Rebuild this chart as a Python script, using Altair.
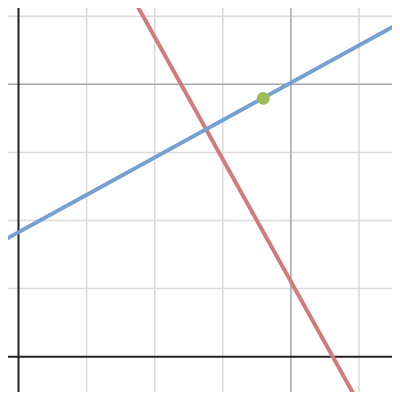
import altair as alt
import pandas as pd

# grid positions (units: 0.5 per minor cell, 2 per major)
minor_vals = [0.5, 1.0, 1.5, 2.5]
major_vals = [2.0]
axis_vals = [0.0]

# line endpoints
blue_x = [-0.15, 2.85]
blue_y = [0.831, 2.478]
red_x = [0.70, 2.60]
red_y = [2.885, -0.526]
pt_x = [1.797]
pt_y = [1.897]

X_DOM = [-0.0771, 2.742]
Y_DOM = [-0.259, 2.560]

xs = alt.Scale(domain=X_DOM, nice=False, zero=False)
ys = alt.Scale(domain=Y_DOM, nice=False, zero=False)


def vrules(vals, color, width):
    df = pd.DataFrame({"v": vals})
    return alt.Chart(df).mark_rule(color=color, strokeWidth=width, clip=True).encode(
        x=alt.X("v:Q", scale=xs, axis=None)
    )


def hrules(vals, color, width):
    df = pd.DataFrame({"v": vals})
    return alt.Chart(df).mark_rule(color=color, strokeWidth=width, clip=True).encode(
        y=alt.Y("v:Q", scale=ys, axis=None)
    )


def line(xv, yv, color):
    df = pd.DataFrame({"x": xv, "y": yv})
    return alt.Chart(df).mark_line(color=color, strokeWidth=4, clip=True).encode(
        x=alt.X("x:Q", scale=xs, axis=None),
        y=alt.Y("y:Q", scale=ys, axis=None),
    )


grid_minor_c = "#dadada"
grid_major_c = "#a5a5a5"
axis_c = "#222222"

pts = alt.Chart(pd.DataFrame({"x": pt_x, "y": pt_y})).mark_circle(
    color="#9bbd55", opacity=1, size=165
).encode(
    x=alt.X("x:Q", scale=xs, axis=None),
    y=alt.Y("y:Q", scale=ys, axis=None),
)

chart = alt.layer(
    vrules(minor_vals, grid_minor_c, 1.5),
    hrules(minor_vals, grid_minor_c, 1.5),
    vrules(major_vals, grid_major_c, 1.5),
    hrules(major_vals, grid_major_c, 1.5),
    vrules(axis_vals, axis_c, 2),
    hrules(axis_vals, axis_c, 2),
    line(red_x, red_y, "#d27b7b"),
    line(blue_x, blue_y, "#74a0d2"),
    pts,
).properties(
    width=384, height=384, padding=0, autosize=alt.AutoSizeParams(type="none"),
    background="white"
).configure_view(stroke=None)

chart.save("out.html", embed_options={"renderer": "svg", "actions": False})
